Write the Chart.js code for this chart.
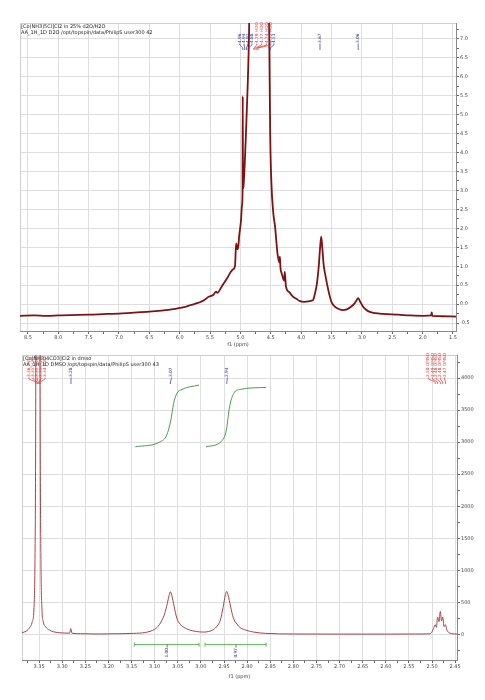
<!DOCTYPE html>
<html>
<head>
<meta charset="utf-8">
<script src="https://cdn.jsdelivr.net/npm/chart.js@4.4.0/dist/chart.umd.min.js"></script>
<style>
html, body { margin: 0; padding: 0; background: #fff; }
.box { position: absolute; left: 0; width: 485px; height: 350px; }
</style>
</head>
<body>
<div class="box" style="top:0"><canvas id="topChart"></canvas></div>
<div class="box" style="top:350px"><canvas id="botChart"></canvas></div>
<script>
// top spectrum: [Co(NH3)5Cl]Cl2 in D2O/H2O
const topTitle = ['[Co(NH3)5Cl]Cl2 in 25% d2O/H2O', 'AA_1H_1D D2O /opt/topspin/data/PhilipS user300 42'];
const topPpm = [8.63, 8.4, 8.2, 8.0, 7.8, 7.5, 7.2, 7.0, 6.8, 6.5, 6.3, 6.1, 6.0, 5.9, 5.83, 5.7, 5.6, 5.53, 5.45,
  5.40, 5.38, 5.31, 5.22, 5.16, 5.12, 5.09, 5.07, 5.05, 5.035, 5.02, 4.99, 4.975, 4.965, 4.962, 4.958, 4.95,
  4.90, 4.86, 4.84, 4.70, 4.54, 4.525, 4.51, 4.49, 4.46, 4.43, 4.39, 4.36, 4.35, 4.34, 4.32, 4.28, 4.27, 4.25,
  4.20, 4.13, 4.08, 4.02, 3.95, 3.88, 3.83, 3.80, 3.77, 3.74, 3.71, 3.69, 3.67, 3.65, 3.63, 3.60, 3.57, 3.54,
  3.50, 3.45, 3.38, 3.31, 3.25, 3.18, 3.12, 3.08, 3.06, 3.03, 2.98, 2.93, 2.88, 2.78, 2.65, 2.40, 2.20, 1.99,
  1.86, 1.85, 1.84, 1.70, 1.45];
const topIntensity = [-0.31, -0.30, -0.31, -0.30, -0.29, -0.28, -0.26, -0.25, -0.23, -0.20, -0.17, -0.13, -0.10, -0.07, -0.03, 0.03, 0.10, 0.19, 0.24,
  0.33, 0.30, 0.46, 0.68, 0.85, 0.92, 1.00, 1.60, 1.45, 1.52, 1.80, 2.22, 2.60, 2.95, 5.49, 3.05, 3.10,
  4.90, 7.00, 9.0, 12.0, 9.0, 7.00, 4.50, 3.20, 2.42, 2.05, 1.34, 1.10, 1.25, 0.95, 0.81, 0.62, 0.85, 0.46,
  0.32, 0.19, 0.14, 0.08, 0.06, 0.07, 0.09, 0.12, 0.30, 0.55, 1.00, 1.45, 1.78, 1.45, 1.05, 0.75, 0.50, 0.28,
  0.05, -0.06, -0.13, -0.16, -0.14, -0.07, 0.02, 0.12, 0.16, 0.07, -0.07, -0.15, -0.20, -0.24, -0.26, -0.28, -0.30, -0.31,
  -0.30, -0.22, -0.31, -0.32, -0.33];

const topLabelText = ['4.96', '4.94', '4.91', '4.88', '4.79 HDO', '4.77 HDO', '4.74 HDO', '4.72 HDO', '4.51', '3.67', '3.06'];
const topLabelAt = [5.01, 4.94, 4.88, 4.81, 4.73, 4.65, 4.57, 4.50, 4.45, 3.69, 3.06];
const topLabelPeak = [4.96, 4.93, 4.90, 4.87, 4.78, 4.76, 4.73, 4.71, 4.51, 3.69, 3.06];
const topLabelSolvent = [false, false, false, false, true, true, true, true, false, false, false];

// bottom spectrum: [Co(NH3)4CO3]Cl2 in DMSO
const botTitle = ['[Co(NH3)4CO3]Cl2 in dmso', 'AA_1H_1D DMSO /opt/topspin/data/PhilipS user300 43'];
const botPpm = [3.387, 3.378, 3.370, 3.365, 3.361, 3.359, 3.3575, 3.356, 3.353, 3.349, 3.3475, 3.346, 3.344, 3.341,
  3.336, 3.328, 3.319, 3.300, 3.284, 3.2815, 3.279, 3.260, 3.220, 3.180, 3.146, 3.120, 3.100, 3.090, 3.080,
  3.074, 3.069, 3.066, 3.063, 3.058, 3.052, 3.045, 3.038, 3.025, 3.010, 2.995, 2.983, 2.973, 2.965, 2.958,
  2.952, 2.947, 2.944, 2.941, 2.936, 2.930, 2.922, 2.915, 2.900, 2.886, 2.860, 2.800, 2.700, 2.600, 2.520,
  2.505, 2.500, 2.497, 2.493, 2.4905, 2.488, 2.485, 2.482, 2.4795, 2.477, 2.474, 2.471, 2.468, 2.464, 2.458, 2.446];
const botIntensity = [26, 50, 110, 190, 420, 1100, 3000, 9000, 20000, 9000, 3000, 1100, 420, 200,
  120, 70, 40, 22, 18, 90, 18, 10, 6, 10, 16, 30, 80, 150, 290,
  440, 600, 665, 610, 440, 250, 160, 115, 70, 45, 36, 45, 75, 130, 220,
  420, 620, 670, 610, 440, 260, 160, 105, 60, 36, 16, 6, 4, 4, 6,
  10, 40, 90, 150, 110, 270, 200, 360, 210, 270, 120, 150, 70, 30, 12, 5];

const integralAPpm = [3.142, 3.088, 3.074, 3.065, 3.059, 3.052, 3.041, 3.004];
const integralAVal = [2927, 3005, 3109, 3344, 3604, 3760, 3823, 3891];
const integralBPpm = [2.989, 2.955, 2.945, 2.938, 2.929, 2.915, 2.859];
const integralBVal = [2927, 3016, 3188, 3552, 3760, 3823, 3854];

const barStart = [3.144, 2.991];
const barEnd = [3.004, 2.859];
const barLevel = -160;
const integralText = ['1.00', '0.97'];
const integralAt = [3.073, 2.924];

const botLabelText = ['3.36 H2O', '3.35 H2O', '3.35 H2O', '3.35 H2O', '3.34 H2O', '3.28', '3.07', '2.94',
  '2.50 DMSO', '2.49 DMSO', '2.48 DMSO', '2.48 DMSO', '2.47 DMSO'];
const botLabelAt = [3.372, 3.363, 3.354, 3.346, 3.337, 3.281, 3.064, 2.943, 2.508, 2.499, 2.491, 2.482, 2.473];
const botLabelPeak = [3.357, 3.354, 3.352, 3.350, 3.348, 3.281, 3.066, 2.944, 2.493, 2.488, 2.482, 2.477, 2.471];
const botLabelSolvent = [true, true, true, true, true, false, false, false, true, true, true, true, true];

const FONT = '"DejaVu Sans"';
const BLUE = '#34348a';
const RED = '#e03030';

function pts(xs, ys) {
  return xs.map((v, i) => ({ x: v, y: ys[i] }));
}
function isMajor(v, step) {
  return Math.abs(v / step - Math.round(v / step)) < 1e-6;
}
// ticks on every half-step, starting from a round value
function halfSteps(step) {
  return s => {
    const st = step / 2;
    const out = [];
    for (let k = Math.ceil(s.min / st - 1e-9); k * st <= s.max + 1e-9; k++) {
      out.push({ value: +(k * st).toFixed(6) });
    }
    s.ticks = out;
  };
}

function axes(cfg) {
  return {
    x: {
      type: 'linear', reverse: true, min: cfg.xMin, max: cfg.xMax,
      afterBuildTicks: halfSteps(cfg.xMajor),
      afterFit: s => { s.height = cfg.xHeight; },
      border: { color: '#8a8a8a' },
      grid: {
        color: c => isMajor(c.tick.value, cfg.xMajor) ? '#dedede' : 'rgba(0,0,0,0)',
        tickColor: '#666', tickLength: 3, lineWidth: 1
      },
      ticks: {
        autoSkip: false, maxRotation: 0,
        padding: 1, color: '#444', font: { family: FONT, size: 5 },
        callback: v => isMajor(v, cfg.xMajor) ? v.toFixed(cfg.xDigits) : ''
      },
      title: { display: true, text: 'f1 (ppm)', color: '#444', font: { family: FONT, size: 5 }, padding: 0 }
    },
    y: {
      type: 'linear', position: 'right', min: cfg.yMin, max: cfg.yMax,
      afterBuildTicks: halfSteps(cfg.yMajor),
      afterFit: s => { s.width = cfg.yWidth; },
      border: { color: '#8a8a8a' },
      grid: {
        color: c => isMajor(c.tick.value, cfg.yMajor) ? '#dedede' : 'rgba(0,0,0,0)',
        tickColor: '#666', tickLength: 3
      },
      ticks: {
        autoSkip: false,
        padding: 1, color: '#444', font: { family: FONT, size: 5 },
        callback: v => isMajor(v, cfg.yMajor) ? v.toFixed(cfg.yDigits) : ''
      }
    }
  };
}

function peakLabels(texts, at, peaks, solvent, baseY) {
  return {
    id: 'peakLabels',
    afterDatasetsDraw(chart) {
      const { ctx, chartArea, scales: { x } } = chart;
      const yb = chartArea.top + baseY;
      ctx.save();
      ctx.font = '4.3px ' + FONT;
      ctx.lineWidth = 0.7;
      texts.forEach((t, i) => {
        const col = solvent[i] ? RED : BLUE;
        const tx = x.getPixelForValue(at[i]);
        const px = x.getPixelForValue(peaks[i]);
        ctx.fillStyle = col;
        ctx.strokeStyle = col;
        ctx.save();
        ctx.translate(tx, yb);
        ctx.rotate(-Math.PI / 2);
        ctx.textAlign = 'left';
        ctx.textBaseline = 'middle';
        ctx.fillText(t, 0, 0);
        ctx.restore();
        ctx.beginPath();
        ctx.moveTo(tx, yb + 0.5);
        ctx.lineTo(tx, yb + 2);
        ctx.lineTo(px, yb + 5);
        ctx.lineTo(px, yb + 7);
        ctx.stroke();
      });
      ctx.restore();
    }
  };
}

function frameAndTitle(lines) {
  return {
    id: 'frameAndTitle',
    beforeDatasetsDraw(chart) {
      const { ctx, chartArea: a } = chart;
      ctx.save();
      ctx.strokeStyle = '#cfcfcf';
      ctx.lineWidth = 1;
      ctx.beginPath();
      ctx.moveTo(a.left + 0.5, a.bottom);
      ctx.lineTo(a.left + 0.5, a.top + 0.5);
      ctx.lineTo(a.right, a.top + 0.5);
      ctx.stroke();
      ctx.fillStyle = '#222';
      ctx.font = '5px ' + FONT;
      ctx.textBaseline = 'middle';
      lines.forEach((l, i) => ctx.fillText(l, a.left + 1, a.top + 4 + i * 6));
      ctx.restore();
    }
  };
}

const integralBarPlugin = {
  id: 'integralText',
  afterDatasetsDraw(chart) {
    const { ctx, scales: { x, y } } = chart;
    const yb = y.getPixelForValue(barLevel);
    ctx.save();
    ctx.font = '4.3px ' + FONT;
    ctx.fillStyle = BLUE;
    ctx.strokeStyle = BLUE;
    ctx.lineWidth = 0.7;
    integralText.forEach((t, i) => {
      const px = x.getPixelForValue(integralAt[i]);
      ctx.beginPath();
      ctx.moveTo(px, yb);
      ctx.lineTo(px, yb + 3);
      ctx.stroke();
      ctx.save();
      ctx.translate(px, yb + 13);
      ctx.rotate(-Math.PI / 2);
      ctx.textBaseline = 'middle';
      ctx.fillText(t, 0, 0);
      ctx.restore();
    });
    ctx.restore();
  }
};

const common = {
  responsive: true, maintainAspectRatio: false, animation: false,
  plugins: { legend: { display: false }, tooltip: { enabled: false } },
  elements: { point: { radius: 0 } }
};

new Chart(document.getElementById('topChart').getContext('2d'), {
  type: 'line',
  data: {
    datasets: [{
      data: pts(topPpm, topIntensity),
      borderColor: '#7d1214', borderWidth: 1.8,
      cubicInterpolationMode: 'monotone', fill: false
    }]
  },
  options: Object.assign({}, common, {
    layout: { padding: { left: 20, top: 23, right: 0, bottom: 2 } },
    scales: axes({ xMin: 1.45, xMax: 8.63, xMajor: 0.5, xDigits: 1, xHeight: 17,
      yMin: -0.71, yMax: 7.42, yMajor: 0.5, yDigits: 1, yWidth: 29 })
  }),
  plugins: [frameAndTitle(topTitle), peakLabels(topLabelText, topLabelAt, topLabelPeak, topLabelSolvent, 20)]
});

new Chart(document.getElementById('botChart').getContext('2d'), {
  type: 'line',
  data: {
    datasets: [{
      data: pts(botPpm, botIntensity),
      borderColor: '#a4434c', borderWidth: 1,
      cubicInterpolationMode: 'monotone', fill: false
    }, {
      data: pts(integralAPpm, integralAVal),
      borderColor: '#4f9a4f', borderWidth: 1, cubicInterpolationMode: 'monotone'
    }, {
      data: pts(integralBPpm, integralBVal),
      borderColor: '#4f9a4f', borderWidth: 1, cubicInterpolationMode: 'monotone'
    }, {
      data: [{ x: barStart[0], y: barLevel }, { x: barEnd[0], y: barLevel }],
      borderColor: '#5cb85c', borderWidth: 1, pointStyle: 'line', pointRotation: 90,
      pointRadius: 2, pointBorderColor: '#5cb85c', pointBorderWidth: 1
    }, {
      data: [{ x: barStart[1], y: barLevel }, { x: barEnd[1], y: barLevel }],
      borderColor: '#5cb85c', borderWidth: 1, pointStyle: 'line', pointRotation: 90,
      pointRadius: 2, pointBorderColor: '#5cb85c', pointBorderWidth: 1
    }]
  },
  options: Object.assign({}, common, {
    layout: { padding: { left: 22, top: 5, right: 0, bottom: 20 } },
    scales: axes({ xMin: 2.446, xMax: 3.387, xMajor: 0.05, xDigits: 2, xHeight: 20,
      yMin: -400, yMax: 4360, yMajor: 500, yDigits: 0, yWidth: 28 })
  }),
  plugins: [frameAndTitle(botTitle), peakLabels(botLabelText, botLabelAt, botLabelPeak, botLabelSolvent, 22), integralBarPlugin]
});
</script>
</body>
</html>
